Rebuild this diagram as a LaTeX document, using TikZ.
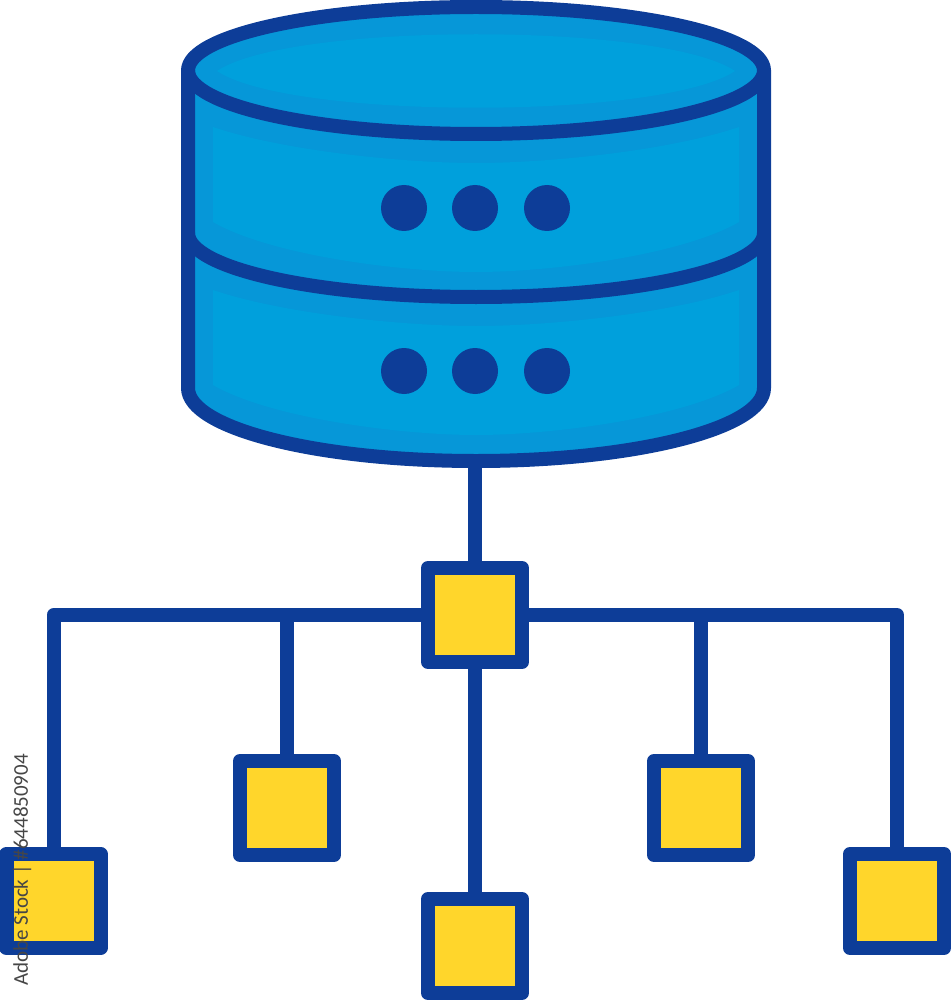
\documentclass[tikz,border=0pt]{standalone}
\usepackage{fontspec}
\setmainfont{Carlito}
\usepackage{xcolor}
\definecolor{navy}{RGB}{13,61,152}
\definecolor{dbdark}{RGB}{6,151,216}
\definecolor{dblight}{RGB}{0,160,220}
\definecolor{boxyellow}{RGB}{255,214,43}
\definecolor{stampgrey}{RGB}{70,70,70}
\tikzset{%
    outline/.style={%
        draw=navy,
        line width=14pt,
        line join=round
    },
    link/.style={%
        outline,
        line cap=butt
    },
    boxnode/.style={%
        outline,
        fill=boxyellow,
        minimum size=94pt,
        inner sep=0pt,
        outer sep=0pt
    }
}

\begin{document}
\begin{tikzpicture}[x=1pt,y=-1pt]
    \useasboundingbox (0,0) rectangle (951,1000);
    \fill[color=dbdark] (188,70) arc[start angle=180, end angle=360, x radius=288, y radius=63.5] -- (764,388) arc[start angle=0, end angle=180, x radius=288, y radius=73] -- cycle;
    \fill[color=dblight] (217,71) .. controls (290,22) and (662,22) .. (735,71) .. controls (662,120) and (290,120) .. (217,71) -- cycle;
    \fill[color=dblight] (213,127) .. controls (280,150) and (400,163) .. (476,163) .. controls (552,163) and (672,150) .. (739,127) -- (739,222) .. controls (682,255) and (552,272) .. (476,272) .. controls (400,272) and (270,255) .. (213,222) -- cycle;
    \fill[color=dblight] (213,290) .. controls (280,313) and (400,326) .. (476,326) .. controls (552,326) and (672,313) .. (739,290) -- (739,385) .. controls (682,418) and (552,435) .. (476,435) .. controls (400,435) and (270,418) .. (213,385) -- cycle;
    \draw[outline] (476,70.5) ellipse [x radius=288, y radius=63.5];
    \draw[outline] (188,70) -- (188,388) arc[start angle=180, end angle=0, x radius=288, y radius=73] -- (764,70);
    \draw[outline] (188,233) arc[start angle=180, end angle=0, x radius=288, y radius=64];
    \foreach \y in {208,371}
    {
    \foreach \x in {404,475,547}
    {
    \fill[color=navy] (\x,\y) circle (23);
    }
    }
    \coordinate (dbbase) at (475,461);
    \node[boxnode] (hub) at (475,615) {};
    \foreach \name/\x/\y in {farleft/53.5/901,nearleft/287/808,bottom/475/946,nearright/701/808,farright/897/901}
    {
    \node[boxnode] (\name) at (\x,\y) {};
    }
    \draw[link] (dbbase) -- (hub.north);
    \draw[link] (hub.south) -- (bottom.north);
    \draw[link] (hub.west) -| (farleft.north);
    \draw[link] (hub.east) -| (farright.north);
    \draw[link] (nearleft.north |- hub) -- (nearleft.north);
    \draw[link] (nearright.north |- hub) -- (nearright.north);
    \node[color=stampgrey, rotate=90, font=\fontsize{21}{21}\selectfont, inner sep=0pt] (stamp) at (22,870) {Adobe Stock | \#644850904};
\end{tikzpicture}
\end{document}
